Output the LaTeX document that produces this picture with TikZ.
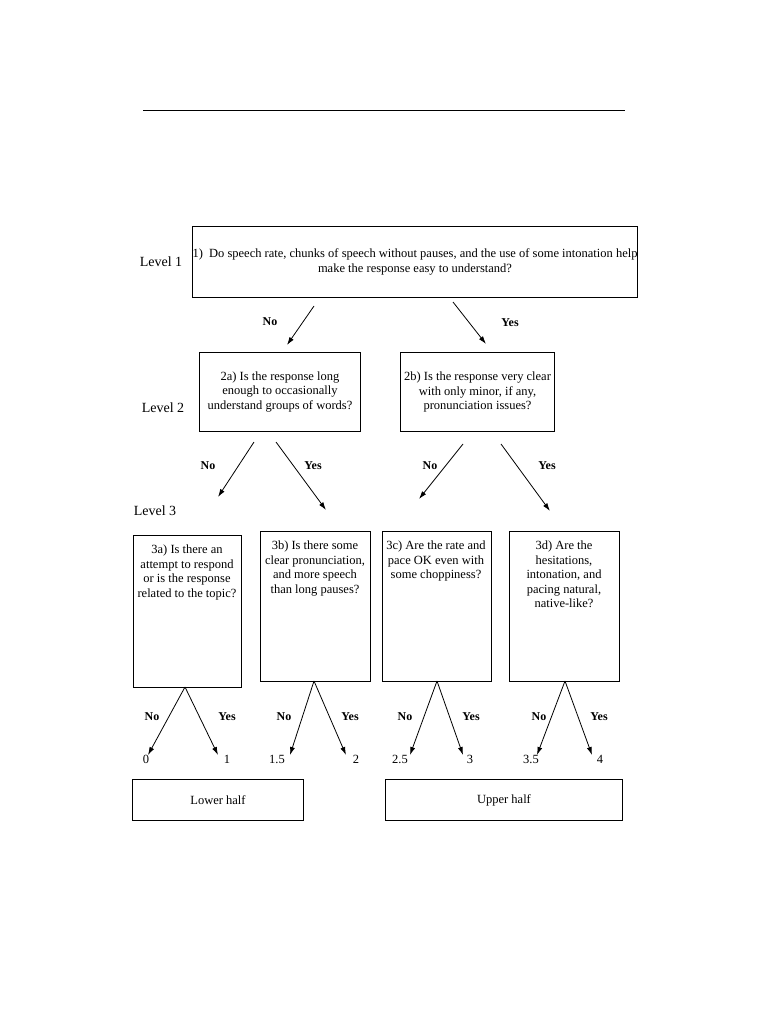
\documentclass[tikz,border=0pt]{standalone}
\usepackage{fontspec}
\setmainfont{Liberation Serif}
\usetikzlibrary{arrows.meta}
\begin{document}
\begin{tikzpicture}[x=1pt,y=-1pt,
  bx/.style={draw,line width=1pt,align=center,inner sep=0pt,font=\fontsize{12.5}{14.5}\selectfont},
  lb/.style={font=\fontsize{12.5}{14.5}\selectfont,inner sep=0pt},
  lv/.style={font=\fontsize{14}{16}\selectfont,inner sep=0pt},
  yn/.style={font=\bfseries\fontsize{12}{14}\selectfont,inner sep=0pt},
  ar/.style={-{Latex[length=8pt,width=5pt]},line width=0.8pt}]
\useasboundingbox (0,0) rectangle (768,1024);
\coordinate (r1) at (143,110); \coordinate (r2) at (625,110);
\draw[line width=0.8pt] (r1) -- (r2);
\node[bx,minimum width=434,minimum height=71,anchor=north west] (q1) at (192,226) {1)\ \ Do speech rate, chunks of speech without pauses, and the use of some intonation help\\make the response easy to understand?};
\node[lv] (l1) at (161,262) {Level 1};
\node[lv] (l2) at (163,408) {Level 2};
\node[lv] (l3) at (155,511) {Level 3};
\node[bx,minimum width=161,minimum height=79,anchor=north west] (q2a) at (199,352) {2a) Is the response long\\enough to occasionally\\understand groups of words?};
\node[bx,minimum width=154,minimum height=79,anchor=north west] (q2b) at (400,352) {2b) Is the response very clear\\with only minor, if any,\\pronunciation issues?};
\coordinate (a1s) at (314,306); \coordinate (a1e) at (287,345);
\coordinate (a2s) at (453,302); \coordinate (a2e) at (486,344);
\draw[ar] (a1s) -- (a1e); \draw[ar] (a2s) -- (a2e);
\node[yn] (n1) at (270,322) {No}; \node[yn] (y1) at (510,323) {Yes};
\coordinate (b1s) at (254,442); \coordinate (b1e) at (218,497);
\coordinate (b2s) at (276,442); \coordinate (b2e) at (326,510);
\coordinate (b3s) at (463,444); \coordinate (b3e) at (419,499);
\coordinate (b4s) at (501,444); \coordinate (b4e) at (550,511);
\foreach \i in {1,2,3,4} \draw[ar] (b\i s) -- (b\i e);
\node[yn] (n2) at (208,466) {No}; \node[yn] (y2) at (313,466) {Yes};
\node[yn] (n3) at (430,466) {No}; \node[yn] (y3) at (547,466) {Yes};
\node[bx,minimum width=108,minimum height=152,anchor=north west,align=center] (q3a) at (133,535) {};
\node[lb,align=center,anchor=north] at (187,545) {3a) Is there an\\attempt to respond\\or is the response\\related to the topic?};
\node[bx,minimum width=110,minimum height=150,anchor=north west] (q3b) at (260,531) {};
\node[lb,align=center,anchor=north] at (315,541) {3b) Is there some\\clear pronunciation,\\and more speech\\than long pauses?};
\node[bx,minimum width=109,minimum height=150,anchor=north west] (q3c) at (382,531) {};
\node[lb,align=center,anchor=north] at (436,541) {3c) Are the rate and\\pace OK even with\\some choppiness?};
\node[bx,minimum width=110,minimum height=150,anchor=north west] (q3d) at (509,531) {};
\node[lb,align=center,anchor=north] at (564,541) {3d) Are the\\hesitations,\\intonation, and\\pacing natural,\\native-like?};
\foreach \n/\x/\ex/\ey/\nl/\yl/\va/\vb/\xa/\xb/\y in {a/185/148/218/152/227/0/1/146/227/687,b/314/290/346/284/350/1.5/2/277/356/681,c/437/410/463/405/471/2.5/3/400/470/681,d/565/537/592/539/599/3.5/4/531/600/681}{
  \coordinate (s\n) at (\x,\y);
  \coordinate (e1\n) at (\ex,755); \coordinate (e2\n) at (\ey,755);
  \draw[ar] (s\n) -- (e1\n); \draw[ar] (s\n) -- (e2\n);
  \node[yn] at (\nl,717) {No}; \node[yn] at (\yl,717) {Yes};
  \node[lb] at (\xa,759) {\va}; \node[lb] at (\xb,759) {\vb};
}
\node[bx,minimum width=171,minimum height=41,anchor=north west] (lh) at (132,779) {Lower half};
\node[bx,minimum width=237,minimum height=41,anchor=north west] (uh) at (385,779) {Upper half};
\end{tikzpicture}
\end{document}
